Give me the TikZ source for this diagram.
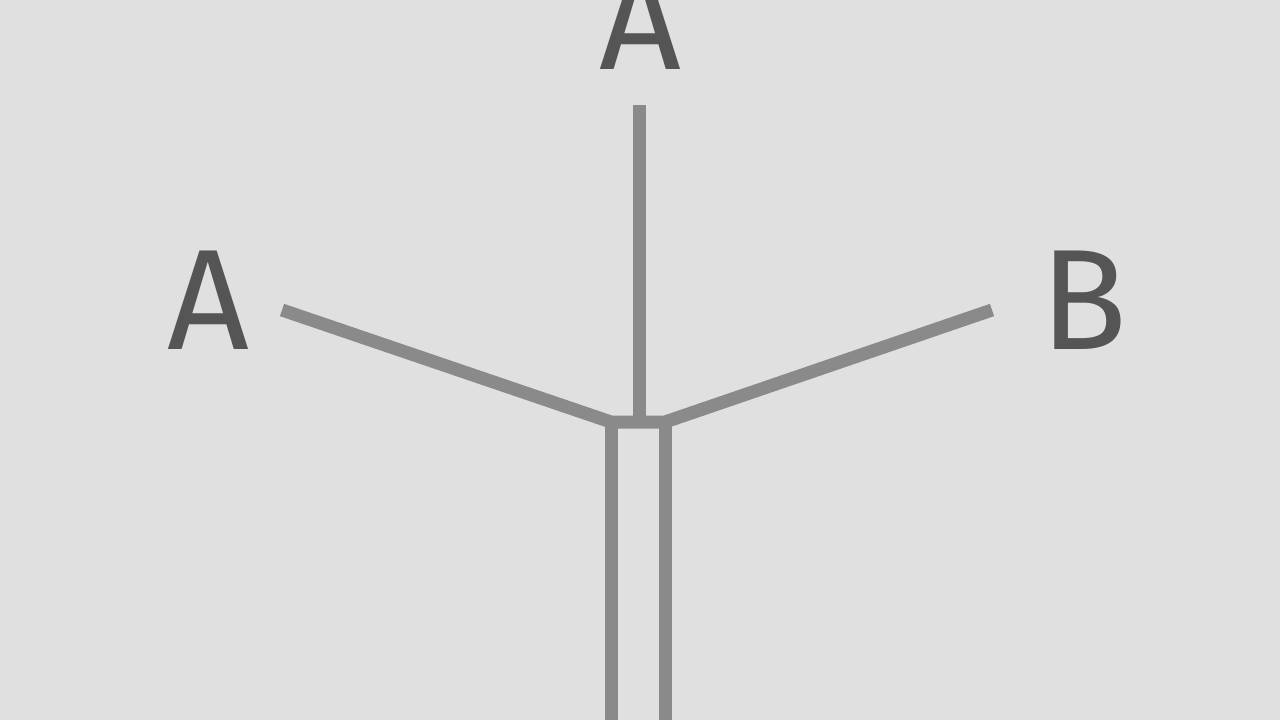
\documentclass[tikz,border=0pt]{standalone}
\usepackage{fontspec}
\setmainfont{Fira Sans}
\definecolor{bgc}{HTML}{E0E0E0}
\definecolor{stemc}{HTML}{8A8A8A}
\definecolor{letterc}{HTML}{555555}

\begin{document}
\begin{tikzpicture}[x=1pt,y=-1pt,
    letter/.style={inner sep=0pt,anchor=base,text=letterc,font=\fontsize{143}{172}\selectfont},
    stem/.style={draw=stemc,line width=13pt,line join=miter}]
	\useasboundingbox (0,0) rectangle (1280,720);
	\clip (0,0) rectangle (1280,720);
	\fill[bgc] (0,0) rectangle (1280,720);

	\node[letter] (atop) at (640, 69)     {A};
	\node[letter] (aleft) at (208, 349)   {A};
	\node[letter] (bright) at (1084, 349) {B};

	\coordinate (tipt) at (639, 105);
	\coordinate (tipl) at (282, 310);
	\coordinate (tipr) at (992, 310);

	\coordinate (jl) at (611, 422);
	\coordinate (jm) at (639, 422);
	\coordinate (jr) at (665, 422);

	\coordinate (bl) at (611, 735);
	\coordinate (br) at (665, 735);

    \path[stem] (tipt) edge (jm);
    \draw[stem] (tipl) -- (jl) -- (jr) -- (tipr);
    \path[stem] (jl) edge (bl);
    \path[stem] (jr) edge (br);
\end{tikzpicture}
\end{document}
